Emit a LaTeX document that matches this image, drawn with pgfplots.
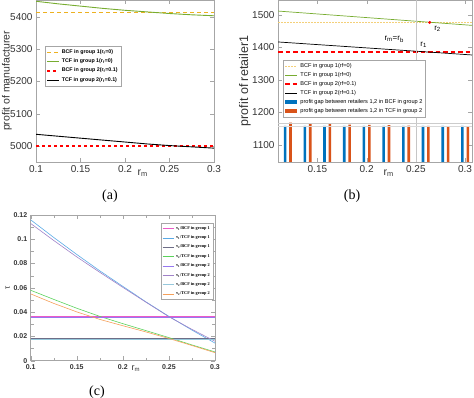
\documentclass[border=0pt]{standalone}
\usepackage{fontspec}
\setmainfont{Liberation Serif}
\setsansfont{Liberation Sans}
\usepackage{pgfplots}
\pgfplotsset{compat=1.18}
\definecolor{mgreen}{rgb}{0.466,0.674,0.188}
\definecolor{myellow}{rgb}{0.929,0.694,0.125}
\definecolor{mblue}{rgb}{0,0.447,0.741}
\definecolor{morange}{rgb}{0.85,0.325,0.098}
\definecolor{tickgray}{gray}{0.2}
\definecolor{axgray}{gray}{0.65}
\definecolor{cpink}{RGB}{235,90,200}
\definecolor{clblue}{RGB}{90,170,230}
\definecolor{cdgray}{RGB}{110,110,135}
\definecolor{cgreen}{RGB}{90,210,90}
\definecolor{clav}{RGB}{150,120,240}
\definecolor{cmauve}{RGB}{160,130,200}
\definecolor{cteal}{RGB}{150,200,220}
\definecolor{corange}{RGB}{245,160,90}
\pgfplotsset{
  mstyle/.style={
    scale only axis,
    anchor=south west,
    axis line style={axgray, line width=0.5pt},
    tick style={axgray},
    tick align=inside,
    ticklabel style={font=\sffamily\fontsize{10}{12}\selectfont, text=tickgray},
    /pgf/number format/assume math mode=true,
    /pgf/number format/set thousands separator={},
    label style={text=tickgray, font=\sffamily\fontsize{10.5}{12}\selectfont},
    legend cell align=left,
  },
}
\begin{document}
\begin{tikzpicture}
\path[use as bounding box] (0pt,0pt) rectangle (474pt,398pt);
% ---------------- (a)
\begin{axis}[mstyle, at={(36pt,236pt)}, width=178pt, height=162pt,
  xmin=0.1, xmax=0.3, ymin=4950, ymax=5453,
  xtick={0.1,0.15,0.2,0.25,0.3},
  ytick={5000,5100,5200,5300,5400},
  ylabel={profit of manufacturer},
  ylabel style={at={(axis description cs:0,0.5)}, anchor=center, yshift=29pt},
  xlabel={r\textsubscript{m}},
  xlabel style={at={(axis description cs:0.6,0)}, anchor=north, yshift=-4pt, font=\sffamily\fontsize{10.5}{12}\selectfont},
  legend style={at={(0.05,0.716)}, anchor=north west, draw=axgray,
    font=\sffamily\bfseries\fontsize{5.3}{6}\selectfont, inner sep=1.2pt, row sep=0pt,
    legend image code/.code={\draw[#1] (0pt,0pt) -- (12pt,0pt);}},
]
\addplot[myellow, line width=1pt, dash pattern=on 4pt off 3pt] coordinates {(0.1,5413) (0.3,5413)};
\addlegendentry{BCF in group 1(r\textsubscript{f}=0)}
\addplot[mgreen, line width=0.9pt] coordinates {(0.1,5449) (0.125,5441) (0.15,5434) (0.175,5427) (0.2,5421) (0.225,5416) (0.25,5411) (0.275,5407) (0.3,5404)};
\addlegendentry{TCF in group 1(r\textsubscript{f}=0)}
\addplot[red, line width=1.5pt, dashed] coordinates {(0.1,5000) (0.3,5000)};
\addlegendentry{BCF in group 2(r\textsubscript{f}=0.1)}
\addplot[black, line width=0.9pt] coordinates {(0.1,5036) (0.125,5030) (0.15,5024) (0.175,5018) (0.2,5012) (0.225,5006) (0.25,5001) (0.275,4997) (0.3,4993)};
\addlegendentry{TCF in group 2(r\textsubscript{f}=0.1)}
\end{axis}
% ---------------- (b)
\begin{axis}[mstyle, at={(278pt,236pt)}, width=194pt, height=162pt,
  xmin=0.11, xmax=0.307, ymin=1048, ymax=1546,
  xtick={0.15,0.2,0.25,0.3},
  ytick={1100,1200,1300,1400,1500},
  ylabel={profit of retailer1},
  ylabel style={at={(axis description cs:0,0.5)}, anchor=center, yshift=33pt, font=\sffamily\fontsize{12.5}{14}\selectfont},
  xlabel={r\textsubscript{m}},
  xlabel style={at={(axis description cs:0.57,0)}, anchor=north, yshift=-4pt, font=\sffamily\fontsize{10.5}{12}\selectfont},
  legend style={at={(0.026,0.63)}, anchor=north west, draw=axgray,
    font=\sffamily\fontsize{5.6}{6.2}\selectfont, inner sep=1.2pt, row sep=-0.6pt,
    legend image code/.code={\draw[#1] (0pt,0pt) -- (12pt,0pt);}},
]
\addplot[myellow!60, line width=0.9pt, dash pattern=on 1.5pt off 1.5pt] coordinates {(0.11,1477) (0.307,1477)};
\addlegendentry{BCF in group 1(rf=0)}
\addplot[mgreen, line width=0.7pt] coordinates {(0.11,1512) (0.307,1468)};
\addlegendentry{TCF in group 1(rf=0)}
\addplot[red, line width=2pt, dash pattern=on 4.5pt off 3pt] coordinates {(0.11,1387) (0.307,1387)};
\addlegendentry{BCF in group 2(rf=0.1)}
\addplot[black, line width=0.7pt] coordinates {(0.11,1417) (0.307,1377)};
\addlegendentry{TCF in group 2(rf=0.1)}
\addplot[ybar, bar width=2.6pt, bar shift=-2.7pt, fill=mblue, draw=none,
  legend image code/.code={\fill[mblue] (0pt,-2.4pt) rectangle (12pt,2.4pt);}]
  coordinates {(0.12,1159) (0.14,1159) (0.16,1159) (0.18,1159) (0.2,1159) (0.22,1159) (0.24,1159) (0.26,1159) (0.28,1159) (0.30,1159)};
\addlegendentry{profit gap between retailers 1,2 in BCF in group 2}
\addplot[ybar, bar width=2.6pt, bar shift=2.7pt, fill=morange, draw=none,
  legend image code/.code={\fill[morange] (0pt,-2.4pt) rectangle (12pt,2.4pt);}]
  coordinates {(0.12,1169) (0.14,1167) (0.16,1165) (0.18,1163) (0.2,1162) (0.22,1161) (0.24,1160) (0.26,1159) (0.28,1158) (0.30,1157)};
\addlegendentry{profit gap between retailers 1,2 in TCF in group 2}
\addplot[gray!45, line width=0.4pt, forget plot] coordinates {(0.25,1048) (0.25,1546)};
\addplot[gray!40, line width=0.4pt, forget plot] coordinates {(0.11,1168) (0.307,1168)};
\addplot[gray!30, line width=0.3pt, forget plot] coordinates {(0.11,1159) (0.307,1159)};
\addplot[only marks, mark=*, mark size=1.3pt, red, forget plot] coordinates {(0.264,1477)};
\node[font=\sffamily\fontsize{8}{9}\selectfont, text=black] at (axis cs:0.228,1425) {r\textsubscript{m}=r\textsubscript{b}};
\node[font=\sffamily\fontsize{8}{9}\selectfont, text=black] at (axis cs:0.258,1408) {r\textsubscript{1}};
\node[font=\sffamily\fontsize{8}{9}\selectfont, text=black] at (axis cs:0.272,1458) {r\textsubscript{2}};
\end{axis}
% ---------------- (c)
\begin{axis}[mstyle, at={(30.7pt,37.3pt)}, width=184.3pt, height=145.7pt,
  xmin=0.1, xmax=0.3, ymin=0, ymax=0.12,
  xtick={0.1,0.15,0.2,0.25,0.3},
  ytick={0,0.02,0.04,0.06,0.08,0.1,0.12},
  minor x tick num=1, minor y tick num=1,
  ticklabel style={font=\sffamily\bfseries\fontsize{7}{8}\selectfont, text=tickgray},
  yticklabel style={/pgf/number format/fixed, /pgf/number format/precision=2},
  ylabel={τ},
  ylabel style={at={(axis description cs:0,0.5)}, anchor=center, yshift=23pt, font=\sffamily\fontsize{8}{9}\selectfont},
  xlabel={r\textsubscript{m}},
  xlabel style={at={(axis description cs:0.57,0)}, anchor=north, yshift=-1pt, font=\sffamily\fontsize{9}{10}\selectfont},
  legend style={at={(0.989,0.945)}, anchor=north east, draw=axgray,
    font=\rmfamily\bfseries\fontsize{4.3}{5}\selectfont, inner sep=1pt, row sep=0.9pt,
    legend image code/.code={\draw[#1] (0pt,0pt) -- (11pt,0pt);}},
]
\addplot[cpink, line width=0.9pt] coordinates {(0.1,0.0365) (0.3,0.0365)};
\addlegendentry{τ\textsubscript{1}/BCF in group 1}
\addplot[clblue, line width=0.6pt] coordinates {(0.1,0.116) (0.125,0.1015) (0.15,0.0875) (0.175,0.0740) (0.2,0.0612) (0.225,0.0485) (0.25,0.0365) (0.275,0.0252) (0.3,0.0145)};
\addlegendentry{τ\textsubscript{1}/TCF in group 1}
\addplot[cdgray, line width=0.8pt] coordinates {(0.1,0.0183) (0.3,0.0183)};
\addlegendentry{τ\textsubscript{2}/BCF in group 1}
\addplot[cgreen, line width=0.6pt] coordinates {(0.1,0.058) (0.125,0.0505) (0.15,0.0432) (0.175,0.0365) (0.2,0.0305) (0.225,0.0248) (0.25,0.0190) (0.275,0.0130) (0.3,0.0072)};
\addlegendentry{τ\textsubscript{2}/TCF in group 1}
\addplot[clav, line width=0.8pt] coordinates {(0.1,0.0358) (0.3,0.0358)};
\addlegendentry{τ\textsubscript{1}/BCF in group 2}
\addplot[cmauve, line width=0.6pt] coordinates {(0.1,0.113) (0.125,0.0990) (0.15,0.0855) (0.175,0.0728) (0.2,0.0604) (0.225,0.0482) (0.25,0.0362) (0.275,0.0258) (0.3,0.0160)};
\addlegendentry{τ\textsubscript{1}/TCF in group 2}
\addplot[cteal, line width=0.8pt] coordinates {(0.1,0.0172) (0.3,0.0172)};
\addlegendentry{τ\textsubscript{2}/BCF in group 2}
\addplot[corange, line width=0.6pt] coordinates {(0.1,0.055) (0.125,0.0472) (0.15,0.0402) (0.175,0.0340) (0.2,0.0288) (0.225,0.0237) (0.25,0.0183) (0.275,0.0125) (0.3,0.0066)};
\addlegendentry{τ\textsubscript{2}/TCF in group 2}
\end{axis}
% captions
\node[font=\rmfamily\fontsize{14}{16}\selectfont] at (110pt,202pt) {(a)};
\node[font=\rmfamily\fontsize{14}{16}\selectfont] at (352pt,202pt) {(b)};
\node[font=\rmfamily\fontsize{14}{16}\selectfont] at (97pt,6pt) {(c)};
\end{tikzpicture}
\end{document}
